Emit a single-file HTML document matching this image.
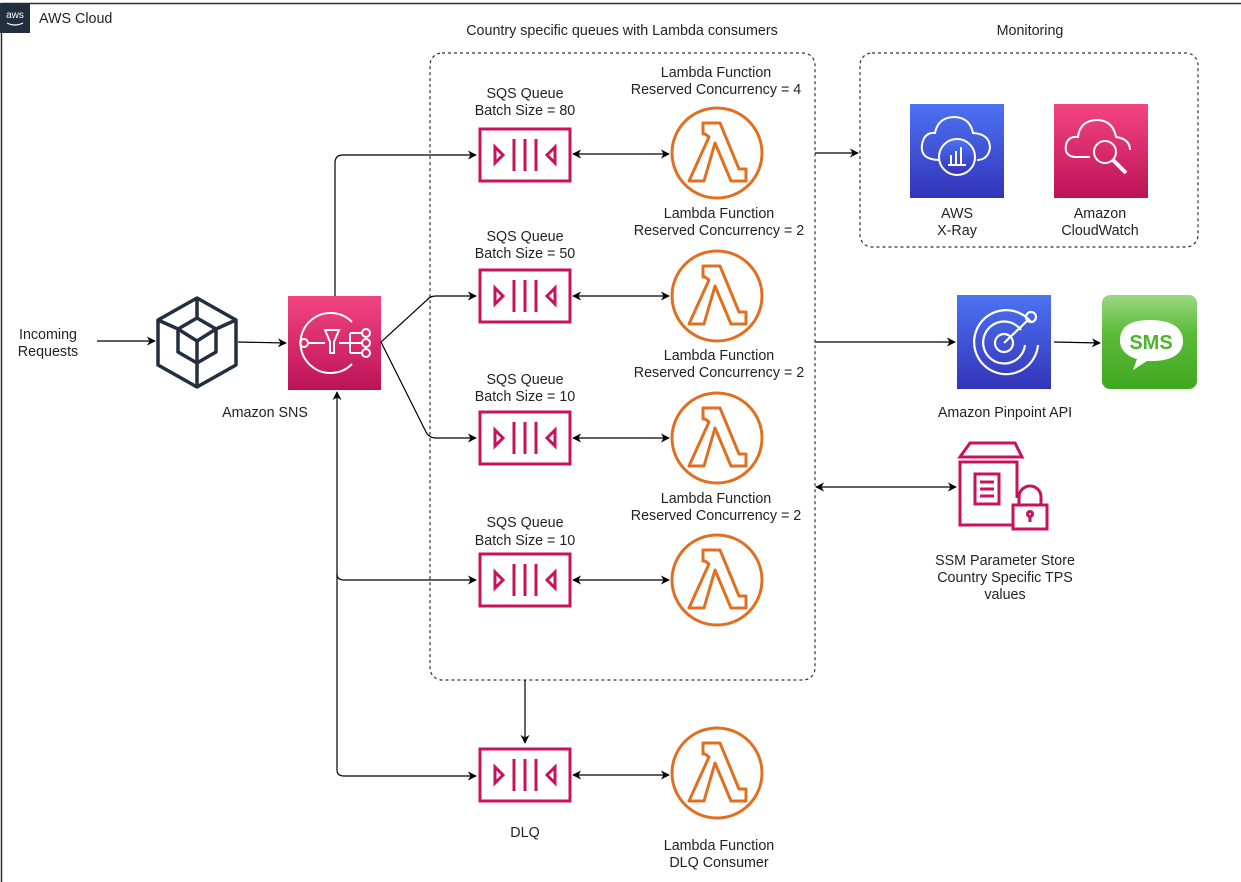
<!DOCTYPE html>
<html><head><meta charset="utf-8"><style>
html,body{margin:0;padding:0;background:#fff}
svg{display:block}
text{font-family:"Liberation Sans",sans-serif;font-size:14.3px;fill:#232323;text-anchor:middle}
</style></head><body>
<svg width="1241" height="882" viewBox="0 0 1241 882" xmlns="http://www.w3.org/2000/svg">
<defs>
<marker id="a" viewBox="0 0 10 10" refX="9" refY="5" markerWidth="9" markerHeight="9" orient="auto-start-reverse" markerUnits="userSpaceOnUse"><path d="M0 0 L10 5 L0 10 L3 5 Z" fill="#000"/></marker>
<linearGradient id="pink" x1="0" y1="0" x2="0" y2="1"><stop offset="0" stop-color="#f34482"/><stop offset="1" stop-color="#bc1356"/></linearGradient>
<linearGradient id="blue" x1="0" y1="0" x2="0" y2="1"><stop offset="0" stop-color="#4d72f3"/><stop offset="1" stop-color="#3334b9"/></linearGradient>
<linearGradient id="green" x1="0" y1="0" x2="0" y2="1"><stop offset="0" stop-color="#9bd883"/><stop offset="0.4" stop-color="#5dbb3a"/><stop offset="1" stop-color="#3ea81f"/></linearGradient>
<g id="q">
<rect x="-45" y="-26" width="90" height="52" fill="#fff" stroke="#c7135d" stroke-width="3"/>
<path d="M-30 -8 L-22 0 L-30 8 Z M30 -8 L22 0 L30 8 Z" fill="none" stroke="#c7135d" stroke-width="3"/>
<path d="M-11 -16 V16 M0 -16 V16 M11 -16 V16" stroke="#c7135d" stroke-width="3"/>
</g>
<g id="l">
<circle r="45" fill="#fff" stroke="#e07020" stroke-width="3"/>
<path d="M-14 -30 L3 -30 L22 16 L29 16 L29 28 L14 28 L-2 -10 L-13 28 L-28 28 L-8 -16 L-12 -19 L-14 -19 Z" fill="none" stroke="#e07020" stroke-width="3" stroke-linejoin="round"/>
</g>
</defs>

<path d="M1.5 882 V3.5 H1241" fill="none" stroke="#232f3e" stroke-width="1.5"/>
<rect x="0" y="3" width="30" height="30" fill="#232f3e"/>
<text x="15" y="18" style="font-size:10px;fill:#fff">aws</text>
<path d="M7 23 Q15 27 23 23" stroke="#fff" fill="none" stroke-width="1.2"/>
<text x="39" y="23" style="text-anchor:start">AWS Cloud</text>

<rect x="430" y="53" width="385" height="627" rx="12" fill="none" stroke="#333" stroke-width="1.2" stroke-dasharray="3,3"/>
<rect x="860" y="53" width="338" height="194" rx="12" fill="none" stroke="#333" stroke-width="1.2" stroke-dasharray="3,3"/>
<text x="622" y="35">Country specific queues with Lambda consumers</text>
<text x="1030" y="35">Monitoring</text>

<text x="48" y="339">Incoming</text>
<text x="48" y="356">Requests</text>
<line x1="97" y1="341" x2="155" y2="341" stroke="#000" stroke-width="1.2" marker-end="url(#a)"/>
<g fill="none" stroke="#232f3e" stroke-width="3.5" stroke-linejoin="round">
<path d="M197 298 L236 320 L236 365 L197 387 L158 365 L158 320 Z"/>
<path d="M197 318 L216 329 L216 352 L197 363 L178 352 L178 329 Z"/>
<path d="M178 329 L197 341 L216 329 M197 341 V363 M197 298 V318 M158 320 L178 329 M236 320 L216 329 M197 363 V387"/>
</g>
<line x1="238" y1="342" x2="286" y2="343" stroke="#000" stroke-width="1.2" marker-end="url(#a)"/>

<rect x="288" y="296" width="93" height="94" fill="url(#pink)"/>
<g fill="none" stroke="#fff" stroke-width="2">
<path d="M352 322 A30 30 0 1 0 352 364"/>
<circle cx="304" cy="343" r="4"/>
<path d="M325 330 L339 330 L334 342 L334 353 L330 353 L330 342 Z"/>
<line x1="308" y1="343" x2="325" y2="343"/>
<line x1="339" y1="343" x2="362" y2="343"/>
<path d="M350 333 V353 M350 333 H362 M350 353 H362"/>
<circle cx="366" cy="333" r="4"/><circle cx="366" cy="343" r="4"/><circle cx="366" cy="353" r="4"/>
</g>
<text x="265" y="417">Amazon SNS</text>

<g fill="none" stroke="#000" stroke-width="1.2">
<path d="M335 296 V163 Q335 155 343 155 H476" marker-end="url(#a)"/>
<path d="M381 342 L427 300 Q430 296 436 296 H476" marker-end="url(#a)"/>
<path d="M381 342 L426 432 Q429 438 436 438 H476" marker-end="url(#a)"/>
<path d="M337 392 V770 Q337 776 344 776 H476" marker-start="url(#a)" marker-end="url(#a)"/>
<path d="M337 574 Q337 580 344 580 H476" marker-end="url(#a)"/>
<path d="M525 680 V743" marker-end="url(#a)"/>
</g>

<use href="#q" x="525" y="155"/><use href="#l" x="717" y="153"/>
<use href="#q" x="525" y="296"/><use href="#l" x="717" y="296"/>
<use href="#q" x="525" y="438"/><use href="#l" x="717" y="438"/>
<use href="#q" x="525" y="580"/><use href="#l" x="717" y="580"/>
<use href="#q" x="525" y="775"/><use href="#l" x="717" y="773"/>
<g fill="none" stroke="#000" stroke-width="1.2" marker-start="url(#a)" marker-end="url(#a)">
<line x1="573" y1="154" x2="669" y2="154"/>
<line x1="573" y1="296" x2="669" y2="296"/>
<line x1="573" y1="438" x2="669" y2="438"/>
<line x1="573" y1="580" x2="669" y2="580"/>
<line x1="573" y1="775" x2="669" y2="775"/>
</g>
<text x="525" y="98">SQS Queue</text><text x="525" y="115">Batch Size = 80</text>
<text x="525" y="241">SQS Queue</text><text x="525" y="258">Batch Size = 50</text>
<text x="525" y="384">SQS Queue</text><text x="525" y="401">Batch Size = 10</text>
<text x="525" y="527">SQS Queue</text><text x="525" y="545">Batch Size = 10</text>
<text x="525" y="837">DLQ</text>
<text x="716" y="77">Lambda Function</text><text x="716" y="94">Reserved Concurrency = 4</text>
<text x="719" y="218">Lambda Function</text><text x="719" y="235">Reserved Concurrency = 2</text>
<text x="719" y="360">Lambda Function</text><text x="719" y="377">Reserved Concurrency = 2</text>
<text x="716" y="503">Lambda Function</text><text x="716" y="520">Reserved Concurrency = 2</text>
<text x="719" y="850">Lambda Function</text><text x="719" y="867">DLQ Consumer</text>

<g fill="none" stroke="#000" stroke-width="1.2">
<line x1="815" y1="153" x2="858" y2="153" marker-end="url(#a)"/>
<line x1="815" y1="342" x2="955" y2="342" marker-end="url(#a)"/>
<line x1="1054" y1="342" x2="1100" y2="343" marker-end="url(#a)"/>
<line x1="816" y1="487" x2="956" y2="487" marker-start="url(#a)" marker-end="url(#a)"/>
</g>

<rect x="910" y="104" width="94" height="94" fill="url(#blue)"/>
<g fill="none" stroke="#fff" stroke-width="2">
<path d="M940 160 Q920 160 922 145 Q924 132 935 133 Q938 117 955 117 Q970 118 973 133 Q990 134 990 148 Q988 160 977 160"/>
<circle cx="957" cy="157" r="18" fill="url(#blue)"/>
<path d="M948 165 H966 M951 164 V155 M956 164 V151 M961 164 V147"/>
</g>
<text x="957" y="218">AWS</text><text x="957" y="235">X-Ray</text>
<rect x="1054" y="104" width="94" height="94" fill="url(#pink)"/>
<g fill="none" stroke="#fff" stroke-width="2">
<path d="M1090 157 H1075 Q1064 156 1066 145 Q1068 136 1078 137 Q1080 120 1098 120 Q1113 121 1116 137 Q1130 139 1130 150"/>
<circle cx="1105" cy="152" r="11"/>
<line x1="1113" y1="160" x2="1126" y2="173" stroke-width="4"/>
</g>
<text x="1100" y="218">Amazon</text><text x="1100" y="235">CloudWatch</text>

<rect x="957" y="295" width="94" height="94" fill="url(#blue)"/>
<g fill="none" stroke="#fff" stroke-width="2.2">
<path d="M1031 322 A32 32 0 1 0 1038 345"/>
<path d="M1021 330 A21 21 0 1 0 1025 345"/>
<circle cx="1004" cy="343" r="9"/>
<line x1="1004" y1="343" x2="1027" y2="321"/>
<circle cx="1031" cy="317" r="5"/>
</g>
<text x="1005" y="417">Amazon Pinpoint API</text>
<rect x="1102" y="295" width="95" height="94" rx="8" fill="url(#green)"/>
<path d="M1150 320 C1125 320 1120 330 1120 341 C1120 350 1128 357 1137 359 L1133 370 L1147 361 C1175 362 1183 352 1183 341 C1183 328 1172 320 1150 320 Z" fill="#fff"/>
<text x="1151" y="349" style="font-size:20px;font-weight:bold;fill:#4cb52a">SMS</text>

<g fill="none" stroke="#c7135d" stroke-width="3">
<path d="M960 457 L970 443 L1015 443 L1022 457 Z"/>
<path d="M1017 498 V462 H960 V525 H1013"/>
<rect x="975" y="474" width="24" height="30"/>
<path d="M980 482 H994 M980 489 H994 M980 496 H994"/>
<rect x="1013" y="505" width="34" height="24"/>
<path d="M1019 505 V497 A11 11 0 0 1 1041 497 V505"/>
<circle cx="1030" cy="514" r="2.5"/><line x1="1030" y1="516" x2="1030" y2="522"/>
</g>
<text x="1005" y="565">SSM Parameter Store</text>
<text x="1005" y="582">Country Specific TPS</text>
<text x="1005" y="599">values</text>
</svg>
</body></html>
